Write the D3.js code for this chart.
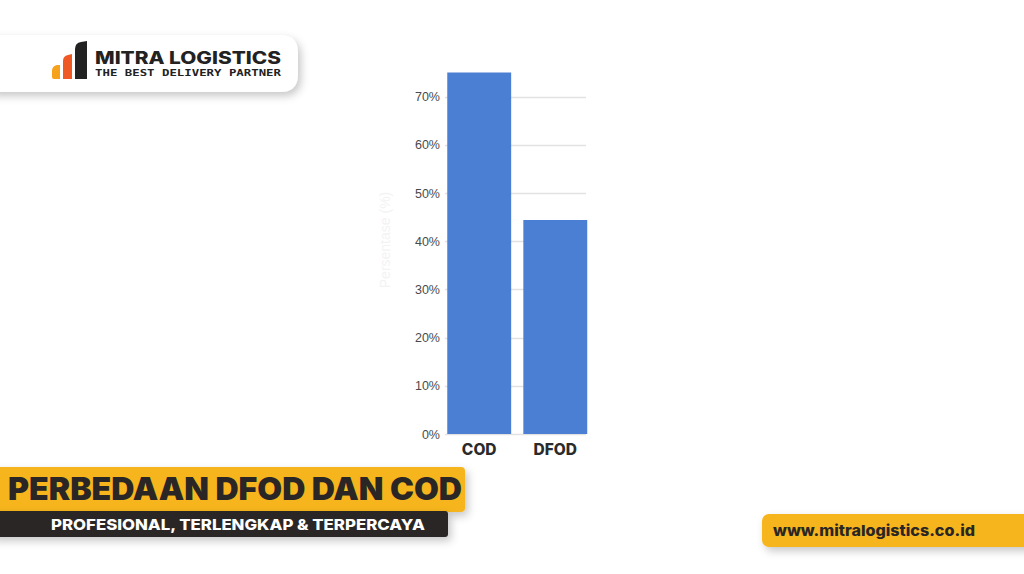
<!DOCTYPE html>
<html><head><meta charset="utf-8">
<script src="https://cdn.jsdelivr.net/npm/d3@7"></script>
<style>html,body{margin:0;padding:0;background:#fff;}svg{display:block;}</style>
</head><body>
<svg id="c" width="1024" height="574"></svg>
<script>
const categories = ["COD", "DFOD"];
const values = [0.75, 0.444];
const yTicks = [0, 0.1, 0.2, 0.3, 0.4, 0.5, 0.6, 0.7];
const brandName = "MITRA LOGISTICS";
const brandTag = "THE BEST DELIVERY PARTNER";
const titleText = "PERBEDAAN DFOD DAN COD";
const subtitleText = "PROFESIONAL, TERLENGKAP & TERPERCAYA";
const urlText = "www.mitralogistics.co.id";

const svg = d3.select("#c");
const defs = svg.append("defs");
const f = defs.append("filter").attr("id","sh").attr("x","-10%").attr("y","-30%").attr("width","130%").attr("height","180%");
f.append("feDropShadow").attr("dx",3).attr("dy",4).attr("stdDeviation",4).attr("flood-color","#000").attr("flood-opacity",0.22);

// chart
const y = d3.scaleLinear().domain([0, 0.75]).range([434, 72.5]);
const x = d3.scaleBand().domain(categories).range([446.5, 588]).paddingInner(0.16).paddingOuter(0.01);

const g = svg.append("g");
g.selectAll("line.grid").data(yTicks).join("line")
  .attr("x1", 445).attr("x2", 586)
  .attr("y1", d => Math.round(y(d)) + 0.5).attr("y2", d => Math.round(y(d)) + 0.5)
  .attr("stroke", "#e2e2e2").attr("stroke-width", 1.5);

const yAxis = d3.axisLeft(y).tickValues(yTicks).tickFormat(d3.format(".0%")).tickSize(0).tickPadding(0);
g.append("g").attr("transform","translate(440,0)").call(yAxis)
  .call(s => s.select(".domain").remove())
  .selectAll("text").attr("font-family","Liberation Sans, Arial, sans-serif").attr("font-size",12.5).attr("fill","#4a4a4a");

g.selectAll("rect.bar").data(categories).join("rect")
  .attr("x", d => x(d)).attr("width", x.bandwidth())
  .attr("y", (d,i) => y(values[i])).attr("height", (d,i) => y(0) - y(values[i]))
  .attr("fill", "#4a7fd3");

const xAxis = d3.axisBottom(x).tickSize(0).tickPadding(0);
g.append("g").attr("transform","translate(0,455)").call(xAxis)
  .call(s => s.select(".domain").remove())
  .selectAll("text").attr("dy", 0).attr("font-family","Inter, Open Sans, sans-serif").attr("font-weight",800).attr("font-size",15.5).attr("fill","#2b2b2b");

// faint y-axis title (ghosted in reference)
g.append("text").attr("transform","translate(390,240) rotate(-90)").attr("text-anchor","middle")
  .attr("font-family","Liberation Sans, Arial, sans-serif").attr("font-size",14).attr("fill","#f3f3f3").text("Persentase (%)");

// logo panel
svg.append("path").attr("d","M-10,35 H280 Q298,35 298,53 V74 Q298,92 280,92 H-10 Z").attr("fill","#fff").attr("filter","url(#sh)");
const logo = svg.append("g");
logo.append("path").attr("d","M52,71 Q52,66 57,65 L60,65 L60,79 L54,79 Q52,79 52,77 Z").attr("fill","#f6a21d");
logo.append("path").attr("d","M63,61 Q63,56 68,55 L72,54 L72,79 L63,79 Z").attr("fill","#ef5a24");
logo.append("path").attr("d","M75,49 Q75,43 81,42 L87,41 L87,79 L75,79 Z").attr("fill","#222");
logo.append("text").attr("x",95).attr("y",64).attr("font-family","Inter, sans-serif").attr("font-weight",800)
  .attr("font-size",17).attr("fill","#222").attr("textLength",186).attr("lengthAdjust","spacingAndGlyphs").text(brandName);
logo.append("text").attr("x",95).attr("y",76).attr("font-family","DejaVu Sans Mono, monospace").attr("font-weight",700)
  .attr("font-size",9.5).attr("fill","#222").attr("textLength",186).attr("lengthAdjust","spacingAndGlyphs").text(brandTag);

// title banner
svg.append("rect").attr("x",-10).attr("y",467).attr("width",475).attr("height",45).attr("rx",4).attr("fill","#f6b51f").attr("filter","url(#sh)");
svg.append("text").attr("x",8).attr("y",500).attr("font-family","Inter, sans-serif").attr("font-weight",900)
  .attr("font-size",31).attr("fill","#2b2626").attr("textLength",454).attr("lengthAdjust","spacingAndGlyphs").text(titleText);
svg.append("rect").attr("x",-10).attr("y",511).attr("width",458).attr("height",26).attr("rx",3).attr("fill","#2a2527").attr("filter","url(#sh)");
svg.append("text").attr("x",51).attr("y",530).attr("font-family","Inter, sans-serif").attr("font-weight",800)
  .attr("font-size",15).attr("fill","#fff").attr("textLength",374).attr("lengthAdjust","spacingAndGlyphs").text(subtitleText);

// url badge
svg.append("rect").attr("x",762).attr("y",514).attr("width",280).attr("height",33).attr("rx",7).attr("fill","#f6b51f").attr("filter","url(#sh)");
svg.append("text").attr("x",773).attr("y",536).attr("font-family","Inter, sans-serif").attr("font-weight",800)
  .attr("font-size",15).attr("fill","#2b2626").attr("textLength",202).attr("lengthAdjust","spacingAndGlyphs").text(urlText);
</script>
</body></html>
